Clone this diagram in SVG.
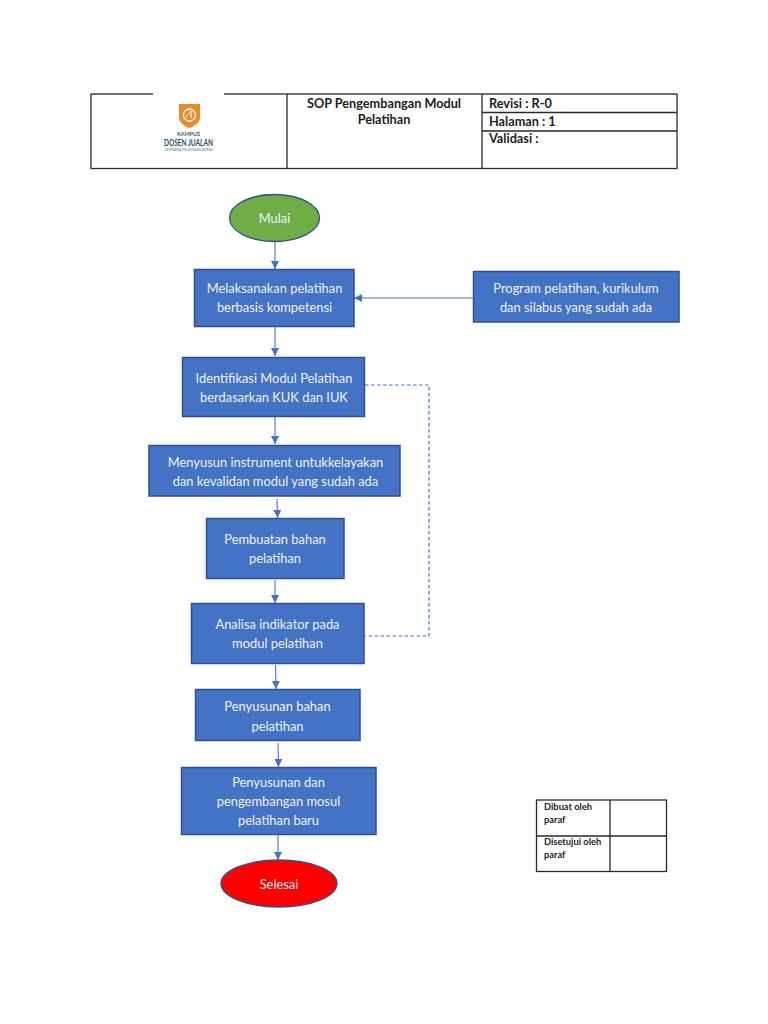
<svg xmlns="http://www.w3.org/2000/svg" width="768" height="1024" viewBox="0 0 768 1024">
<style>
text{font-family:Lato,Carlito,"Liberation Sans",sans-serif}
.b{fill:#4472c4;stroke:#2f528f;stroke-width:1.500}
.t{fill:#eef2fa;font-size:12.900px;text-anchor:middle}
.h{fill:#1c1c1c;font-size:12.700px;font-weight:700}
.s{fill:#222;font-size:9.300px;font-weight:700}
.g{fill:none;stroke:#2a2a2a;stroke-width:1.300}
.c{fill:none;stroke:#4472c4;stroke-width:1.100}
.d{fill:none;stroke:#4472c4;stroke-width:1.200;stroke-dasharray:3.500 2.500}
</style>
<defs><marker id="a" markerUnits="userSpaceOnUse" markerWidth="9" markerHeight="9" refX="8" refY="4" orient="auto"><path d="M0 0L8 4L0 8Z" fill="#4472c4"/></marker></defs>
<rect width="768" height="1024" fill="#fff"/>
<g id="header">
<rect class="g" x="91" y="94" width="586" height="74.500"/>
<path class="g" d="M287 94V168.500M482 94V168.500M482 112.500H677M482 131H677"/>
<rect x="153" y="91" width="71" height="72" fill="#fff"/>
<text class="h" x="384" y="108" text-anchor="middle">SOP Pengembangan Modul</text>
<text class="h" x="384" y="124" text-anchor="middle">Pelatihan</text>
<text class="h" x="489" y="108">Revisi : R-0</text>
<text class="h" x="489" y="126">Halaman : 1</text>
<text class="h" x="489" y="143">Validasi :</text>
</g>
<g id="logo">
<path d="M179 104H200V118C200 122 195 126 189.500 128C184 126 179 122 179 118Z" fill="#ee8a2c"/>
<circle cx="189.500" cy="115" r="6" fill="none" stroke="#fff" stroke-width="1.300"/>
<path d="M186 117.500C188 113 190 113 191 111M191 111V118" fill="none" stroke="#fff" stroke-width="1"/>
<text x="188.500" y="136" text-anchor="middle" font-size="6" font-weight="700" fill="#3d5a70" textLength="23" lengthAdjust="spacingAndGlyphs">KAMPUS</text>
<text x="188.500" y="146" text-anchor="middle" font-size="8.500" font-weight="700" fill="#23506e" textLength="49" lengthAdjust="spacingAndGlyphs">DOSEN JUALAN</text>
<text x="188.500" y="151" text-anchor="middle" font-size="3" fill="#5c7486" textLength="48" lengthAdjust="spacingAndGlyphs">LEMBAGA PELATIHAN KERJA</text>
</g>
<g id="connectors">
<path class="c" marker-end="url(#a)" d="M275 242V269"/>
<path class="c" marker-end="url(#a)" d="M473 298H354"/>
<path class="c" marker-end="url(#a)" d="M275 327V356"/>
<path class="c" marker-end="url(#a)" d="M275 417V444"/>
<path class="c" marker-end="url(#a)" d="M277 499L277.500 518"/>
<path class="c" marker-end="url(#a)" d="M275 580V603"/>
<path class="c" marker-end="url(#a)" d="M275.500 665L276 689"/>
<path class="c" marker-end="url(#a)" d="M278 743L278.500 767"/>
<path class="c" marker-end="url(#a)" d="M278 835V860"/>
<path class="d" d="M365 385H429V636H365"/>
</g>
<g id="mulai"><ellipse cx="274.500" cy="218" rx="45" ry="23.500" fill="#70ad47" stroke="#2f528f" stroke-width="1.300"/><text class="t" x="274.500" y="222.500">Mulai</text></g>
<g id="melaksanakan"><rect class="b" x="194.500" y="269.500" width="159.500" height="57"/><text class="t" x="274.500" y="293">Melaksanakan pelatihan</text><text class="t" x="274.500" y="312">berbasis kompetensi</text></g>
<g id="program"><rect class="b" x="473.500" y="271.500" width="205.500" height="50.500"/><text class="t" x="576" y="293">Program pelatihan, kurikulum</text><text class="t" x="576" y="312">dan silabus yang sudah ada</text></g>
<g id="identifikasi"><rect class="b" x="182.500" y="357.500" width="182" height="59"/><text class="t" x="274" y="383">Identifikasi Modul Pelatihan</text><text class="t" x="274" y="402">berdasarkan KUK dan IUK</text></g>
<g id="menyusun"><rect class="b" x="149" y="445.500" width="251" height="50.500"/><text class="t" x="275.500" y="467">Menyusun instrument untukkelayakan</text><text class="t" x="275.500" y="486">dan kevalidan modul yang sudah ada</text></g>
<g id="pembuatan"><rect class="b" x="206.500" y="518.500" width="137.500" height="60"/><text class="t" x="275" y="544">Pembuatan bahan</text><text class="t" x="275" y="563">pelatihan</text></g>
<g id="analisa"><rect class="b" x="191.500" y="603.500" width="172.500" height="60"/><text class="t" x="277.500" y="629">Analisa indikator pada</text><text class="t" x="277.500" y="648">modul pelatihan</text></g>
<g id="penyusunan-bahan"><rect class="b" x="195.500" y="689.500" width="164.500" height="51"/><text class="t" x="277.500" y="711">Penyusunan bahan</text><text class="t" x="277.500" y="731">pelatihan</text></g>
<g id="penyusunan-mosul"><rect class="b" x="181.500" y="767.500" width="194.500" height="67"/><text class="t" x="278.500" y="787">Penyusunan dan</text><text class="t" x="278.500" y="806">pengembangan mosul</text><text class="t" x="278.500" y="825">pelatihan baru</text></g>
<g id="selesai"><ellipse cx="279" cy="883.500" rx="58" ry="23.500" fill="#ff0000" stroke="#2f528f" stroke-width="1.300"/><text class="t" x="279" y="888.500">Selesai</text></g>
<g id="paraf">
<rect class="g" x="536.500" y="800" width="130" height="71.500"/>
<path class="g" d="M610 800V871.500M536.500 836H666.500"/>
<text class="s" x="544" y="810">Dibuat oleh</text><text class="s" x="544" y="823">paraf</text>
<text class="s" x="544" y="845">Disetujui oleh</text><text class="s" x="544" y="858">paraf</text>
</g>
</svg>
